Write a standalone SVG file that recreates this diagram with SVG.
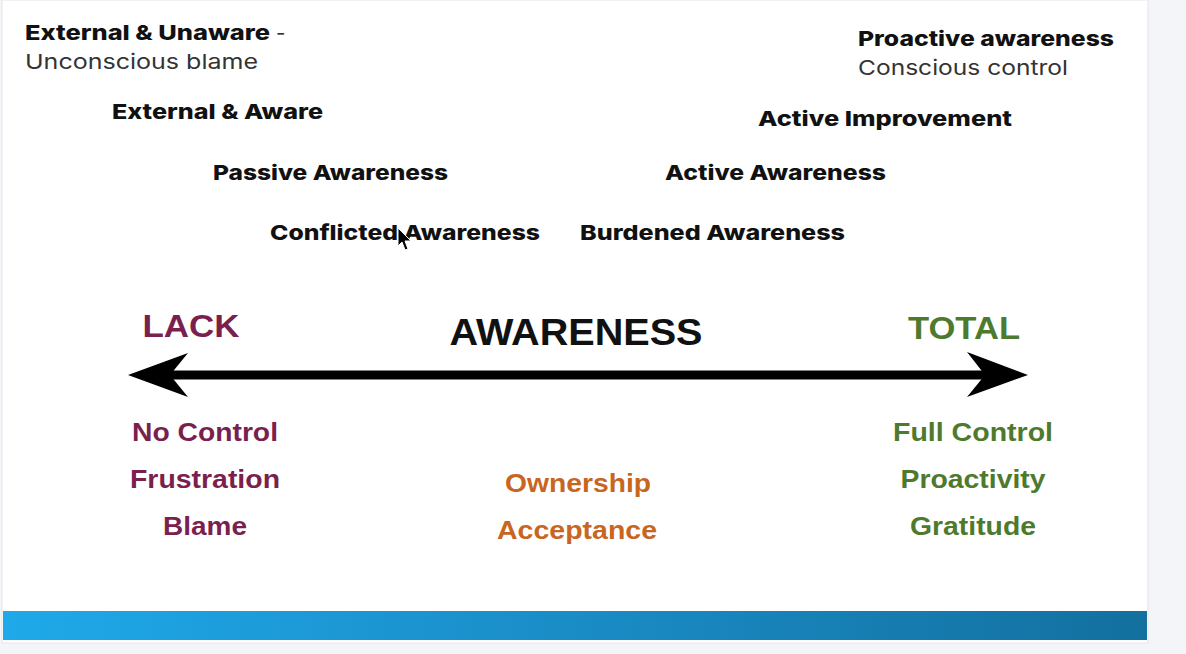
<svg xmlns="http://www.w3.org/2000/svg" width="1186" height="654" viewBox="0 0 1186 654">
<defs>
<linearGradient id="bar" x1="0" y1="0" x2="1" y2="0">
<stop offset="0" stop-color="#1fa9e9"/>
<stop offset="0.5" stop-color="#1a8cc6"/>
<stop offset="1" stop-color="#13709f"/>
</linearGradient>
<style>
.t{font-family:Inter,"Open Sans","Liberation Sans",sans-serif;font-size:20.5px;fill:#111;}
.b{font-weight:800;}
.r{font-weight:400;fill:#333;}
.a{font-family:"Liberation Sans",Arial,sans-serif;font-weight:700;font-size:26px;text-anchor:middle;}
.big{font-size:31px;}
.huge{font-size:37px;}
.p{fill:#7a1f4e;}
.o{fill:#c8661f;}
.g{fill:#4d7a2d;}
</style>
</defs>
<rect x="0" y="0" width="1186" height="654" fill="#f4f5f9"/>
<rect x="2" y="0" width="1146" height="643" fill="#ffffff" stroke="#e3e5ea" stroke-width="1"/>
<rect x="3" y="611" width="1144" height="29" fill="url(#bar)"/>

<g id="external-unaware"><text class="t b" x="25" y="40" textLength="245" lengthAdjust="spacingAndGlyphs">External &amp; Unaware</text><text class="t r" x="276" y="40">-</text><text class="t r" x="25" y="69" textLength="233" lengthAdjust="spacingAndGlyphs">Unconscious blame</text></g>
<g id="external-aware"><text class="t b" x="112" y="119" textLength="211" lengthAdjust="spacingAndGlyphs">External &amp; Aware</text></g>
<g id="passive-awareness"><text class="t b" x="213" y="180" textLength="235" lengthAdjust="spacingAndGlyphs">Passive Awareness</text></g>
<g id="conflicted-awareness"><text class="t b" x="270" y="240" textLength="270" lengthAdjust="spacingAndGlyphs">Conflicted Awareness</text></g>
<g id="burdened-awareness"><text class="t b" x="580" y="240" textLength="265" lengthAdjust="spacingAndGlyphs">Burdened Awareness</text></g>
<g id="active-awareness"><text class="t b" x="665" y="180" textLength="221" lengthAdjust="spacingAndGlyphs">Active Awareness</text></g>
<g id="active-improvement"><text class="t b" x="758" y="126" textLength="254" lengthAdjust="spacingAndGlyphs">Active Improvement</text></g>
<g id="proactive-awareness"><text class="t b" x="858" y="46" textLength="256" lengthAdjust="spacingAndGlyphs">Proactive awareness</text><text class="t r" x="858" y="75" textLength="210" lengthAdjust="spacingAndGlyphs">Conscious control</text></g>

<g id="lack"><text class="a big p" x="191" y="337" textLength="97" lengthAdjust="spacingAndGlyphs">LACK</text></g>
<g id="awareness"><text class="a huge" x="576" y="345" fill="#111" textLength="253" lengthAdjust="spacingAndGlyphs">AWARENESS</text></g>
<g id="total"><text class="a big g" x="964" y="339" textLength="112" lengthAdjust="spacingAndGlyphs">TOTAL</text></g>

<g id="connectors">
<line x1="168" y1="375" x2="986" y2="375" stroke="#000" stroke-width="9"/>
<polygon points="128,375 188,353 170,375 188,397" fill="#000"/>
<polygon points="1028,375 967,352 985,375 967,397" fill="#000"/>
</g>

<g id="lack-list">
<text class="a p" x="205" y="441" textLength="146" lengthAdjust="spacingAndGlyphs">No Control</text>
<text class="a p" x="205" y="488" textLength="150" lengthAdjust="spacingAndGlyphs">Frustration</text>
<text class="a p" x="205" y="535" textLength="84" lengthAdjust="spacingAndGlyphs">Blame</text>
</g>
<g id="middle-list">
<text class="a o" x="578" y="492" textLength="146" lengthAdjust="spacingAndGlyphs">Ownership</text>
<text class="a o" x="577" y="539" textLength="160" lengthAdjust="spacingAndGlyphs">Acceptance</text>
</g>
<g id="total-list">
<text class="a g" x="973" y="441" textLength="160" lengthAdjust="spacingAndGlyphs">Full Control</text>
<text class="a g" x="973" y="488" textLength="145" lengthAdjust="spacingAndGlyphs">Proactivity</text>
<text class="a g" x="973" y="535" textLength="126" lengthAdjust="spacingAndGlyphs">Gratitude</text>
</g>

<path d="M398,228 L398,246 L402,242 L405,250 L408,249 L405,241 L411,241 Z" fill="#000" stroke="#fff" stroke-width="1"/>
</svg>
